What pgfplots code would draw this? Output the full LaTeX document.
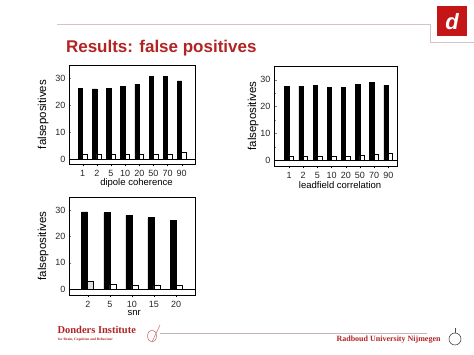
\documentclass[border=0pt]{standalone}
\usepackage{pgfplots}
\pgfplotsset{compat=1.18}
\usepackage{fontspec}
\setmainfont{Liberation Sans}
\newfontfamily\seriffont{Liberation Serif}
\definecolor{slidered}{RGB}{178,36,36}
\definecolor{logored}{RGB}{196,22,22}
\definecolor{rulecol}{RGB}{212,196,198}
\pgfplotsset{
  fpaxis/.style={
    scale only axis, anchor=south west,
    /pgf/number format/assume math mode=true,
    ybar=0pt,
    ytick={0,10,20,30}, minor ytick={5,15,25},
    ytick pos=left, xtick pos=bottom,
    ytick align=inside,
    xtick align=outside,
    major tick length=2.5pt, minor tick length=1.5pt,
    xtick=data,
    x tick style={draw=black},
    tick label style={font=\fontsize{9}{10}\selectfont, text=black!85},
    ylabel={falsepositives},
    ylabel style={font=\fontsize{11.5}{12}\selectfont, anchor=center},
    xlabel style={font=\fontsize{9.5}{10}\selectfont, anchor=center},
    axis line style={line width=0.8pt},
    every axis plot/.append style={line width=0.6pt},
    clip=false,
  },
  blk/.style={fill=black, draw=black},
  wht/.style={fill=white, draw=black},
}
\begin{document}
\begin{tikzpicture}[x=1pt,y=1pt]
\path[use as bounding box, fill=white] (0,0) rectangle (474,355);
% header
\draw[rulecol, line width=1pt] (57,330.5) -- (430,330.5) -- (430,312.3) -- (474,312.3);
\fill[logored] (437,319) rectangle (467,349);
\node[text=white, font=\fontsize{22}{22}\selectfont\bfseries\itshape] at (452,333) {d};
\node[anchor=base west, text=slidered, font=\fontsize{17}{17}\selectfont\bfseries] at (62.5,302.5) {Results: false positives};
% footer
\draw[rulecol!80!gray, line width=0.6pt] (160,22) -- (427,22);
\draw[slidered!60, line width=0.6pt] (152,19) ellipse (4.5 and 6);
\draw[slidered!60, line width=0.6pt] (152,13) -- (160,30);
\node[anchor=base west, text=slidered, font=\seriffont\fontsize{10.5}{11}\selectfont\bfseries] at (54,21) {Donders Institute};
\node[anchor=base west, text=slidered, font=\seriffont\fontsize{3.6}{4}\selectfont\bfseries] at (54.5,14.5) {for Brain, Cognition and Behaviour};
\node[anchor=base west, text=slidered, font=\seriffont\fontsize{8}{9}\selectfont\bfseries] at (333,13) {Radboud University Nijmegen};
\draw[black!70, line width=0.6pt] (455,16) circle (6);
\draw[black!70, line width=0.5pt] (455,22) -- (455,27);
% chart 1
\begin{axis}[fpaxis, at={(69pt,191pt)}, width=126pt, height=99pt,
  ymin=-1.86, ymax=34.9, xmin=-0.97, xmax=7.94, bar width=4.4pt,
  xticklabels={1,2,5,10,20,50,70,90},
  xlabel={dipole coherence},
  xlabel style={at={(axis cs:3.8,-8.8)}},
  ylabel style={at={(axis description cs:-0.206,0.5)}}]
\addplot[blk] coordinates {(0,26.2) (1,26.0) (2,26.3) (3,26.9) (4,27.7) (5,30.7) (6,30.7) (7,29.0)};
\addplot[wht] coordinates {(0,1.8) (1,1.8) (2,1.8) (3,1.6) (4,1.7) (5,1.6) (6,1.7) (7,2.3)};
\draw[line width=0.8pt] (axis cs:-0.97,0) -- (axis cs:7.94,0);
\end{axis}
% chart 2
\begin{axis}[fpaxis, at={(274pt,189pt)}, width=123pt, height=100pt,
  ymin=-2.25, ymax=35.2, xmin=-1.06, xmax=7.61, bar width=4.4pt,
  xticklabels={1,2,5,10,20,50,70,90},
  xlabel={leadfield correlation},
  xlabel style={at={(axis cs:3.6,-9.4)}},
  ylabel style={at={(axis description cs:-0.17,0.5)}}]
\addplot[blk] coordinates {(0,27.5) (1,27.7) (2,27.8) (3,27.3) (4,27.2) (5,28.3) (6,29.2) (7,28.0)};
\addplot[wht] coordinates {(0,1.5) (1,1.5) (2,1.5) (3,1.5) (4,1.3) (5,1.6) (6,2.0) (7,2.5)};
\draw[line width=0.8pt] (axis cs:-1.06,0) -- (axis cs:7.61,0);
\end{axis}
% chart 3
\begin{axis}[fpaxis, at={(69pt,60pt)}, width=126pt, height=98pt,
  ymin=-2.3, ymax=35, xmin=-0.85, xmax=4.86, bar width=6pt,
  xticklabels={2,5,10,15,20},
  xlabel={snr},
  xlabel style={at={(axis cs:2.1,-9.1)}},
  ylabel style={at={(axis description cs:-0.206,0.5)}}]
\addplot[blk, bar shift=-3pt] coordinates {(0,29.3) (1,29.0) (2,28.0) (3,27.1) (4,26.2)};
\addplot[wht, fill=black!12, bar shift=3pt] coordinates {(0,2.8)};
\addplot[wht, bar shift=3pt] coordinates {(1,1.6) (2,1.5) (3,1.5) (4,1.5)};
\draw[line width=0.8pt] (axis cs:-0.85,0) -- (axis cs:4.86,0);
\end{axis}
\end{tikzpicture}
\end{document}
